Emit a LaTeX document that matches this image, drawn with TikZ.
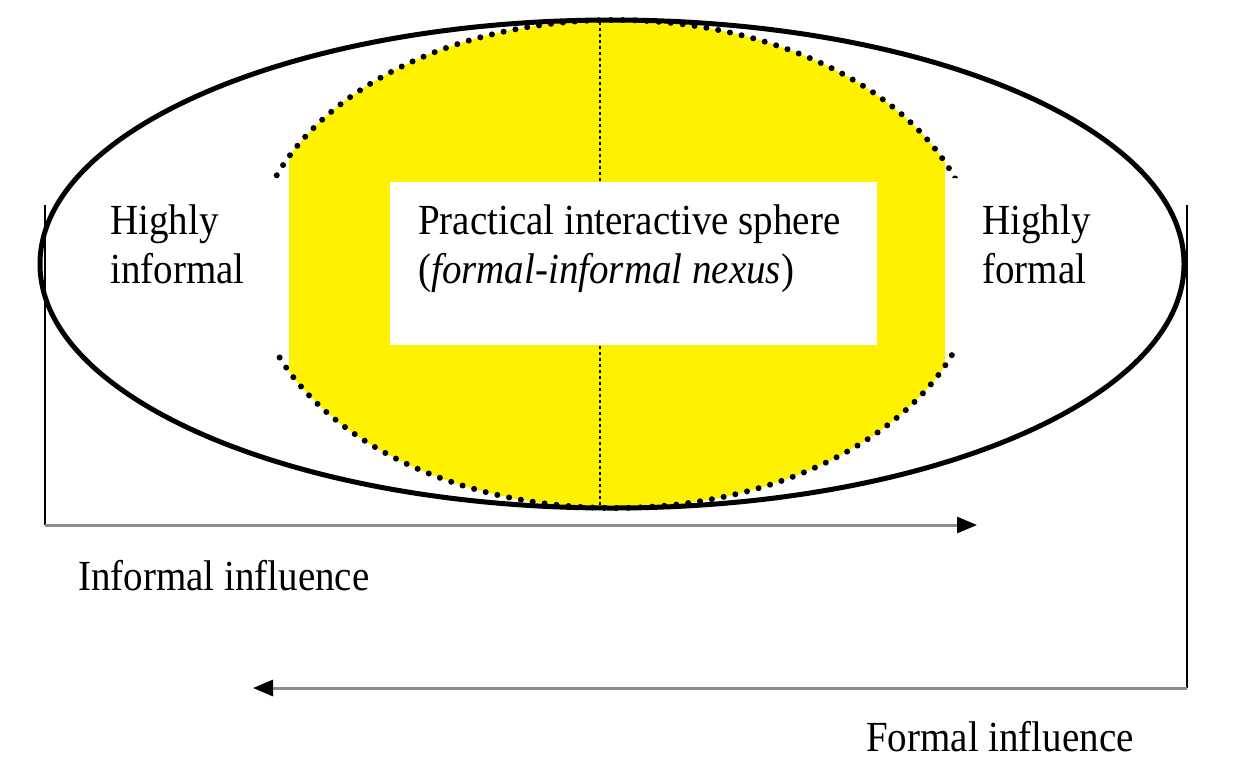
\documentclass[tikz,border=0pt]{standalone}
\usepackage{fontspec}
\setmainfont{Liberation Serif}
\usetikzlibrary{arrows.meta}
\begin{document}
\begin{tikzpicture}[x=1pt,y=-1pt,
  lbl/.style={font=\fontsize{39}{44}\selectfont, yscale=1.1, align=left, inner sep=0},
  arr/.style={draw=black!45, line width=3pt, -{Triangle[length=20pt,width=16pt,fill=black,color=black]}},
  brk/.style={line width=2pt}]
\useasboundingbox (0,0) rectangle (1239,766);
% yellow region
\begin{scope}
  \clip (289,0) rectangle (945,766);
  \clip (612,264) ellipse [x radius=572, y radius=244];
  \fill[yellow] (615,264) ellipse [x radius=363, y radius=244];
\end{scope}
% dotted arcs
\begin{scope}
  \clip (0,0) rectangle (1239,178) (0,350) rectangle (1239,766);
  \draw[line width=6pt, line cap=round, dash pattern=on 0pt off 12pt] (615,264) ellipse [x radius=363, y radius=244];
\end{scope}
% vertical dotted divider
\coordinate (vt) at (600,22);
\coordinate (vb) at (600,508);
\draw[line width=2pt, dash pattern=on 3pt off 3pt] (vt) -- (vb);
% central box
\node[fill=white, minimum width=487pt, minimum height=163pt, inner sep=0] (box) at (633.5,263.5) {};
\node[lbl, anchor=north west] (ptxt) at (418,205) {Practical interactive sphere\\(\textit{formal-informal nexus})};
% outer ellipse
\draw[line width=5pt] (612,264) ellipse [x radius=572, y radius=244];
\node[lbl, anchor=north west] (hi) at (110,205) {Highly\\informal};
\node[lbl, anchor=north west] (hf) at (982,205) {Highly\\formal};
% influences
\coordinate (l1) at (45,205); \coordinate (l2) at (45,525); \coordinate (l3) at (977,525);
\coordinate (r1) at (1187,205); \coordinate (r2) at (1187,688); \coordinate (r3) at (253,688);
\draw[brk] (l1) -- (l2);
\draw[arr] (l2) -- (l3);
\draw[brk] (r1) -- (r2);
\draw[arr] (r2) -- (r3);
\node[lbl, anchor=west] (ii) at (78,576) {Informal influence};
\node[lbl, anchor=west] (fi) at (866,737) {Formal influence};
\end{tikzpicture}
\end{document}
